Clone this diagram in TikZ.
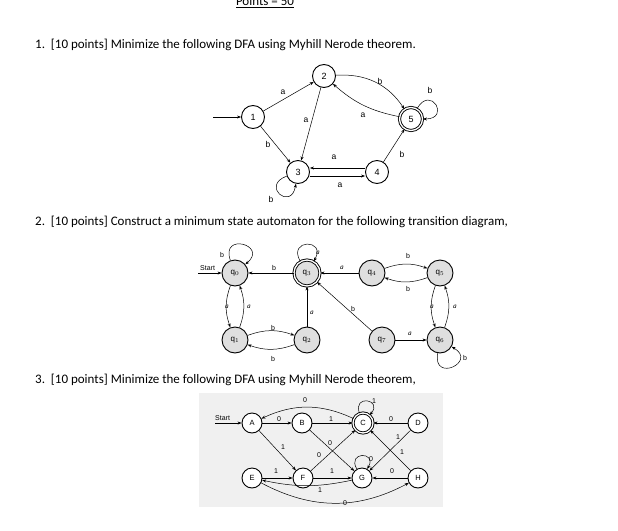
\documentclass[tikz,border=0pt]{standalone}
\usepackage{fontspec}
\setmainfont{Carlito}
\newfontfamily\hv{Liberation Sans}
\usetikzlibrary{arrows.meta}
\begin{document}
\begin{tikzpicture}[x=1pt,y=-1pt,
  st/.style={circle,draw,line width=0.9pt,inner sep=0pt,font=\hv\fontsize{9}{10}\selectfont},
  s1/.style={st,minimum size=23pt},
  s2/.style={st,minimum size=26pt,fill=gray!25,font=\hv\fontsize{8}{9}\selectfont},
  s3/.style={st,minimum size=20pt,font=\hv\fontsize{7.5}{8}\selectfont},
  acc/.style={double,double distance=1.3pt},
  e/.style={-{Stealth[length=4pt,width=3pt]},line width=0.5pt},
  lb/.style={font=\hv\fontsize{8.5}{9}\selectfont,inner sep=1pt},
  lbi/.style={font=\fontsize{7}{8}\selectfont\itshape,inner sep=1pt},
  lbs/.style={font=\hv\fontsize{7}{8}\selectfont,inner sep=1pt},
  q/.style={font=\fontsize{13}{15}\selectfont,anchor=west,inner sep=0pt}]
\useasboundingbox (0,0) rectangle (618,530);
\clip (0,0) rectangle (618,530);
\fill[white] (0,0) rectangle (618,530);
\node[font=\fontsize{13}{15}\selectfont,inner sep=0pt] (title) at (265,2) {\underline{Points = 50}};
\node[q] (t1) at (35,45) {1.\ \ [10 points] Minimize the following DFA using Myhill Nerode theorem.};
\node[q] (t2) at (35,222) {2.\ \ [10 points] Construct a minimum state automaton for the following transition diagram,};
\node[q] (t3) at (35,380) {3.\ \ [10 points] Minimize the following DFA using Myhill Nerode theorem,};
% diagram 1
\node[s1] (n1) at (253,117) {1};
\node[s1] (n2) at (324,76) {2};
\node[s1] (n3) at (298,172) {3};
\node[s1] (n4) at (377,172) {4};
\node[s1,acc] (n5) at (411,119) {5};
\coordinate (s1) at (213,117);
\draw[e] (s1) -- (n1);
\draw[e] (n1) -- (n2);
\draw[e] (n2) -- (n3);
\draw[e] (n1) -- (n3);
\draw[e] (n2) to[bend left=30] (n5);
\draw[e] (n5) to[bend left=15] (n2);
\draw[e] ([yshift=-4pt]n3.east) -- ([yshift=-4pt]n4.west);
\draw[e] ([yshift=4pt]n4.west) -- ([yshift=4pt]n3.east);
\draw[e] (n4) -- (n5);
\draw[e] (n5) to[out=60,in=0,looseness=6] (n5);
\draw[e] (n3) to[out=200,in=260,looseness=6] (n3);
\node[lb] at (283,92) {a};
\node[lb] at (306,120) {a};
\node[lb] at (268,144) {b};
\node[lb] at (380,81) {b};
\node[lb] at (363,115) {a};
\node[lb] at (430,90) {b};
\node[lb] at (334,157) {a};
\node[lb] at (340,185) {a};
\node[lb] at (402,154) {b};
\node[lb] at (271,199) {b};
% diagram 2
\node[s2] (q0) at (235,273) {q$_0$};
\node[s2,acc] (q3) at (307,273) {q$_3$};
\node[s2] (q4) at (372,273) {q$_4$};
\node[s2] (q5) at (440,273) {q$_5$};
\node[s2] (q1) at (235,340) {q$_1$};
\node[s2] (q2) at (307,340) {q$_2$};
\node[s2] (q7) at (382,340) {q$_7$};
\node[s2] (q6) at (440,340) {q$_6$};
\coordinate (s2) at (198,273);
\draw[e] (s2) -- (q0);
\node[lbs,anchor=south west] at (199,272) {Start};
\draw[e] (q0) to[out=110,in=40,looseness=5] (q0);
\draw[e] (q3) to[out=120,in=60,looseness=5] (q3);
\draw[e] (q3) -- (q0);
\draw[e] (q4) -- (q3);
\draw[e] (q4) to[bend left=20] (q5);
\draw[e] (q5) to[bend left=20] (q4);
\draw[e] (q0) to[bend right=20] (q1);
\draw[e] (q1) to[bend right=20] (q0);
\draw[e] (q1) to[bend left=20] (q2);
\draw[e] (q2) to[bend left=20] (q1);
\draw[e] (q2) -- (q3);
\draw[e] (q7) -- (q3);
\draw[e] (q7) -- (q6);
\draw[e] (q5) to[bend right=20] (q6);
\draw[e] (q6) to[bend right=20] (q5);
\draw[e] (q6) to[out=-100,in=-30,looseness=5] (q6);
\node[lbs] at (222,255) {b};
\node[lbi] at (318,253) {a};
\node[lbs] at (274,268) {b};
\node[lbi] at (342,268) {a};
\node[lbs] at (408,256) {b};
\node[lbs] at (408,289) {b};
\node[lbi] at (227,307) {a};
\node[lbi] at (249,307) {a};
\node[lbs] at (273,328) {b};
\node[lbs] at (273,359) {b};
\node[lbi] at (312,313) {a};
\node[lbs] at (353,309) {b};
\node[lbi] at (410,334) {a};
\node[lbi] at (432,307) {a};
\node[lbi] at (455,307) {a};
\node[lbs] at (465,358) {b};
% diagram 3
\fill[gray!12] (199,393) rectangle (443,507);
\node[s3,fill=white] (A) at (252,423) {A};
\node[s3,fill=white] (B) at (302,423) {B};
\node[s3,fill=white,acc] (C) at (363,423) {C};
\node[s3,fill=white] (D) at (418,423) {D};
\node[s3,fill=white] (E) at (252,478) {E};
\node[s3,fill=white] (F) at (303,478) {F};
\node[s3,fill=white] (G) at (362,478) {G};
\node[s3,fill=white] (H) at (418,478) {H};
\coordinate (s3) at (215,423);
\draw[e] (s3) -- (A);
\node[lbs,anchor=south west] at (214,422) {Start};
\draw[e] (C) to[bend right=25] (A);
\draw[e] (A) -- (B);
\draw[e] (B) -- (C);
\draw[e] (D) -- (C);
\draw[e] (C) to[out=110,in=50,looseness=5] (C);
\draw[e] (A) -- (F);
\draw[e] (B) -- (G);
\draw[e] (F) -- (C);
\draw[e] (D) -- (G);
\draw[e] (H) -- (C);
\draw[e] (E) -- (F);
\draw[e] (F) -- (G);
\draw[e] (H) -- (G);
\draw[e] (G) to[bend left=12] (E);
\draw[e] (E) to[bend right=28] (H);
\draw[e] (G) to[out=120,in=60,looseness=5] (G);
\node[lbs] at (305,400) {0};
\node[lbs] at (374,401) {1};
\node[lbs] at (279,419) {0};
\node[lbs] at (331,419) {1};
\node[lbs] at (391,419) {0};
\node[lbs] at (283,447) {1};
\node[lbs] at (330,443) {0};
\node[lbs] at (319,455) {0};
\node[lbs] at (398,437) {1};
\node[lbs] at (402,452) {1};
\node[lbs] at (371,459) {0};
\node[lbs] at (276,471) {1};
\node[lbs] at (332,471) {1};
\node[lbs] at (392,471) {0};
\node[lbs] at (320,490) {1};
\node[lbs] at (345,503) {0};
\end{tikzpicture}
\end{document}
